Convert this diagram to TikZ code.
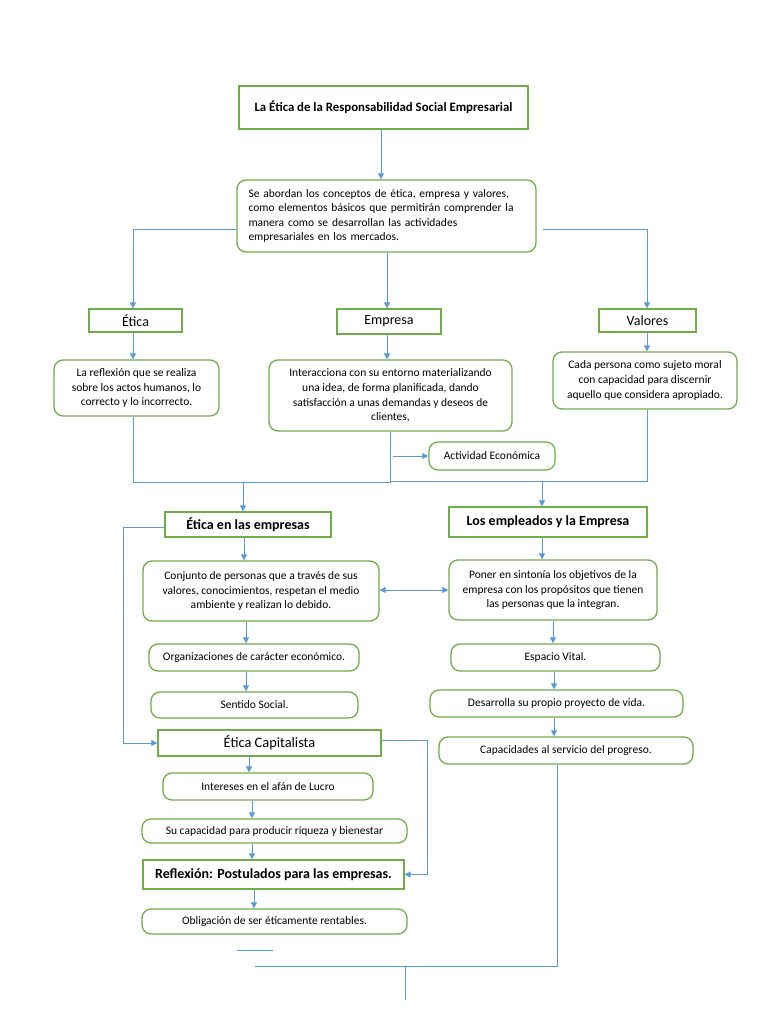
\documentclass[tikz,border=0pt]{standalone}
\usepackage{fontspec}
\setmainfont{Carlito}
\usetikzlibrary{arrows.meta}
\definecolor{grn}{RGB}{112,173,71}
\definecolor{blu}{RGB}{91,155,213}
\tikzset{
  box/.style={draw=grn, line width=1.3pt, fill=white, align=center, inner sep=0pt, text=black,
    font=\fontsize{11.5}{14.6}\selectfont},
  rbox/.style={box, rounded corners=9pt},
  conn/.style={draw=blu, line width=1pt},
  arr/.style={conn, -{Triangle[length=6pt,width=6pt]}},
  darr/.style={conn, {Triangle[length=6pt,width=6pt]}-{Triangle[length=6pt,width=6pt]}},
  bigb/.style={font=\fontsize{14}{16}\selectfont\bfseries},
  mid/.style={font=\fontsize{14}{16}\selectfont},
}
\begin{document}
\begin{tikzpicture}[x=1pt,y=-1pt]
\useasboundingbox[fill=white] (0,0) rectangle (768,1024);

% top
\node[box, minimum width=289, minimum height=43, font=\fontsize{12.8}{15}\selectfont\bfseries] (title) at (383.5,107.5) {La Ética de la Responsabilidad Social Empresarial};
\node[rbox, minimum width=299, minimum height=72, text width=276, align=left] (intro) at (386.5,216) {Se abordan los conceptos de ética, empresa y valores,\\como elementos básicos que permitirán comprender la\\manera como se desarrollan las actividades\\empresariales en los mercados.};

\node[box, mid, minimum width=93, minimum height=23] (etica) at (135.5,320.5) {Ética};
\node[box, mid, minimum width=104, minimum height=25] (empresa) at (389,321.5) {Empresa};
\node[box, mid, minimum width=97, minimum height=23] (valores) at (647.5,320.5) {Valores};

\node[rbox, minimum width=165, minimum height=56] (reflex) at (136.5,388) {La reflexión que se realiza\\sobre los actos humanos, lo\\correcto y lo incorrecto.};
\node[rbox, minimum width=243, minimum height=71] (interac) at (390.5,395.5) {Interacciona con su entorno materializando\\una idea, de forma planificada, dando\\satisfacción a unas demandas y deseos de\\clientes,};
\node[rbox, minimum width=184, minimum height=57] (cada) at (645,380.5) {Cada persona como sujeto moral\\con capacidad para discernir\\aquello que considera apropiado.};
\node[rbox, minimum width=126, minimum height=28] (activ) at (492,456) {Actividad Económica};

% middle
\node[box, bigb, minimum width=166, minimum height=25] (eempresas) at (248,524.5) {Ética en las empresas};
\node[box, bigb, minimum width=198, minimum height=30] (empleados) at (548,522) {Los empleados y la Empresa};
\node[rbox, minimum width=236, minimum height=60] (conjunto) at (261,591) {Conjunto de personas que a través de sus\\valores, conocimientos, respetan el medio\\ambiente y realizan lo debido.};
\node[rbox, minimum width=208, minimum height=60] (poner) at (553,590) {Poner en sintonía los objetivos de la\\empresa con los propósitos que tienen\\las personas que la integran.};
\node[rbox, minimum width=210, minimum height=27] (organiz) at (254,657.5) {Organizaciones de carácter económico.};
\node[rbox, minimum width=209, minimum height=27] (espacio) at (555.5,657.5) {Espacio Vital.};
\node[rbox, minimum width=207, minimum height=26] (sentido) at (254.5,705) {Sentido Social.};
\node[rbox, minimum width=253, minimum height=27] (desarrolla) at (556.5,703.5) {Desarrolla su propio proyecto de vida.};
\node[rbox, minimum width=254, minimum height=27] (capac) at (566,750.5) {Capacidades al servicio del progreso.};

% bottom
\node[box, font=\fontsize{14.4}{16}\selectfont, minimum width=223, minimum height=26] (capital) at (269.5,743) {Ética Capitalista};
\node[rbox, minimum width=210, minimum height=27] (intereses) at (268,786.5) {Intereses en el afán de Lucro};
\node[rbox, minimum width=265, minimum height=24] (sucap) at (274.5,831) {Su capacidad para producir riqueza y bienestar};
\node[box, bigb, minimum width=261, minimum height=29] (reflexion) at (273.5,874.5) {Reflexión: Postulados para las empresas.};
\node[rbox, minimum width=265, minimum height=25] (oblig) at (274.5,921.5) {Obligación de ser éticamente rentables.};

% junctions
\coordinate (j1) at (390.5,482);
\coordinate (bl) at (255,966);
\coordinate (bb) at (405,1000);
\coordinate (s1) at (237,950);
\coordinate (s2) at (273,950);

% connectors
\draw[arr] ([xshift=-2.5]title.south) -- ([xshift=-2.5]title.south |- intro.north);
\draw[arr] ([xshift=1,yshift=-14]intro.west) -| ([xshift=-2.5]etica.north);
\draw[arr] ([xshift=6,yshift=-14]intro.east) -| ([xshift=-0.5]valores.north);
\draw[arr] ([xshift=0.5]intro.south) -- ([xshift=0.5]intro.south |- empresa.north);

\draw[arr] ([xshift=-2.5]etica.south) -- ([xshift=-2.5]etica.south |- reflex.north);
\draw[arr] ([xshift=-2]empresa.south) -- ([xshift=-2]empresa.south |- interac.north);
\draw[arr] ([xshift=-0.5]valores.south) -- ([xshift=-0.5]valores.south |- cada.north);

\draw[conn] ([xshift=-3.5]reflex.south) |- (j1) -- (interac.south);
\draw[arr] ([xshift=2]j1 |- activ.west) -- (activ.west);
\draw[conn] ([xshift=2]cada.south) |- ([yshift=1]j1);

\draw[arr] ([xshift=-5]eempresas.north |- j1) -- ([xshift=-5]eempresas.north);
\draw[arr] ([xshift=-6,yshift=1]empleados.north |- j1) -- ([xshift=-6]empleados.north);

\draw[arr] ([xshift=-4]eempresas.south) -- ([xshift=-4]eempresas.south |- conjunto.north);
\draw[arr] ([xshift=-6]empleados.south) -- ([xshift=-6]empleados.south |- poner.north);
\draw[darr] ([yshift=1]conjunto.east) -- ([yshift=1]conjunto.east -| poner.west);

\draw[arr] ([xshift=-15]conjunto.south) -- ([xshift=-15]conjunto.south |- organiz.north);
\draw[arr] ([xshift=-8]organiz.south) -- ([xshift=-8]organiz.south |- sentido.north);
\draw[arr] (poner.south) -- (poner.south |- espacio.north);
\draw[arr] ([xshift=-1.5]espacio.south) -- ([xshift=-1.5]espacio.south |- desarrolla.north);
\draw[arr] ([xshift=-2.5]desarrolla.south) -- ([xshift=-2.5]desarrolla.south |- capac.north);

\draw[arr] ([yshift=-2.5]eempresas.west) -- ++(-41,0) |- (capital.west);
\draw[arr] ([yshift=3]capital.east) -- ++(46,0) |- (reflexion.east);

\draw[arr] ([xshift=-20.5]capital.south) -- ([xshift=-20.5]capital.south |- intereses.north);
\draw[arr] ([xshift=-16]intereses.south) -- ([xshift=-16]intereses.south |- sucap.north);
\draw[arr] ([xshift=-22.5]sucap.south) -- ([xshift=-22.5]sucap.south |- reflexion.north);
\draw[arr] ([xshift=-19.5]reflexion.south) -- ([xshift=-19.5]reflexion.south |- oblig.north);

\draw[conn] (s1) -- (s2);
\draw[conn] ([xshift=-9]capac.south) |- (bl);
\draw[conn] (bb |- bl) -- (bb);
\end{tikzpicture}
\end{document}
